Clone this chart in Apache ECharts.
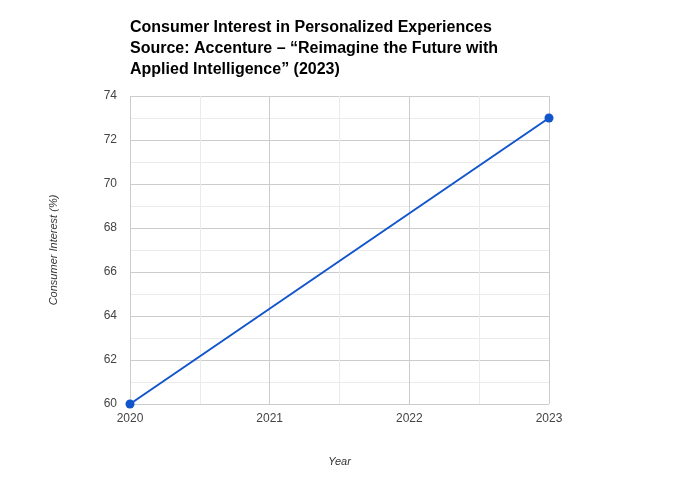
<!DOCTYPE html>
<html>
<head>
<meta charset="utf-8">
<script src="https://cdn.jsdelivr.net/npm/echarts@6/dist/echarts.min.js"></script>
<style>html,body{margin:0;padding:0;background:#fff}#c{width:680px;height:500px}</style>
</head>
<body>
<div id="c"></div>
<script>
var years = [2020, 2023];
var interest = [60, 73];
var titleText = 'Consumer Interest in Personalized Experiences\nSource: Accenture \u2013 \u201cReimagine the Future with\nApplied Intelligence\u201d (2023)';

var chart = echarts.init(document.getElementById('c'));
chart.setOption({
  animation: false,
  backgroundColor: '#ffffff',
  textStyle: { fontFamily: 'Liberation Sans, Arial, sans-serif' },
  title: {
    text: titleText,
    left: 125,
    top: 12,
    textStyle: { fontSize: 16, fontWeight: 'bold', color: '#000', lineHeight: 21, fontFamily: 'Liberation Sans, Arial, sans-serif' }
  },
  grid: { left: 130, right: 131, top: 96, bottom: 96 },
  xAxis: {
    type: 'value', min: 2020, max: 2023, interval: 1,
    name: 'Year', nameLocation: 'middle', nameGap: 52,
    nameTextStyle: { fontStyle: 'italic', fontSize: 11, color: '#333' },
    axisLine: { show: false },
    axisTick: { show: false },
    axisLabel: { color: '#444', fontSize: 12, margin: 9, formatter: function (v) { return String(v); } },
    splitLine: { show: true, lineStyle: { color: '#cccccc', width: 1 } },
    minorTick: { show: false, splitNumber: 2 },
    minorSplitLine: { show: true, lineStyle: { color: '#ebebeb', width: 1 } }
  },
  yAxis: {
    type: 'value', min: 60, max: 74, interval: 2,
    name: 'Consumer Interest (%)', nameLocation: 'middle', nameGap: 71,
    nameTextStyle: { fontStyle: 'italic', fontSize: 11, color: '#333' },
    axisLine: { show: false },
    axisTick: { show: false },
    axisLabel: { color: '#444', fontSize: 12, margin: 13 },
    splitLine: { show: true, lineStyle: { color: '#cccccc', width: 1 } },
    minorTick: { show: false, splitNumber: 2 },
    minorSplitLine: { show: true, lineStyle: { color: '#ebebeb', width: 1 } }
  },
  series: [{
    type: 'line',
    data: years.map(function (y, i) { return [y, interest[i]]; }),
    symbol: 'circle', symbolSize: 9,
    lineStyle: { color: '#1155cc', width: 2 },
    itemStyle: { color: '#1155cc' }
  }]
});
</script>
</body>
</html>
